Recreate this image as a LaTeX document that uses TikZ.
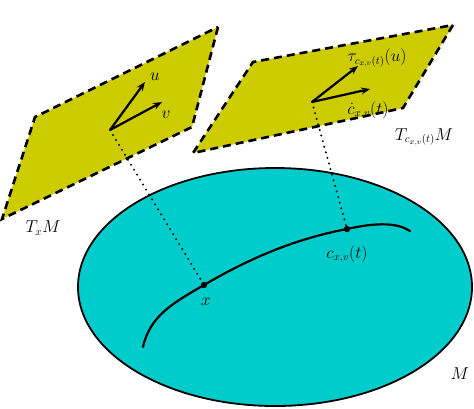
\documentclass[tikz,border=0pt]{standalone}
\usepackage{amsmath}
\usepackage{amssymb}
\usepackage{xcolor}
\usetikzlibrary{calc,arrows.meta}
\definecolor{planeyellow}{RGB}{204,204,0}
\definecolor{manifoldcyan}{RGB}{0,204,204}

\begin{document}
\begin{tikzpicture}[x=1pt,y=-1pt,
  plane/.style={line width=2.6pt, draw=black, fill=planeyellow, dash pattern=on 8pt off 5pt},
  vec/.style={line width=2.2pt, -{Stealth[length=9pt,width=7pt]}},
  proj/.style={line width=2.2pt, dash pattern=on 0pt off 5.8pt, line cap=round},
  lbl/.style={inner sep=0pt, font=\fontsize{16}{18}\selectfont}]
\useasboundingbox (0,0) rectangle (474,408);
% the manifold
      \draw [line width=1.8pt, draw=black, fill=manifoldcyan]
      (275,287) ellipse [x radius=197, y radius=119];
% the two tangent planes
      \draw [plane]
	  (218,27) --
      (192,127) --
      (2,219)--
      (35,117)--
       cycle;
      \draw [plane]
	  (453,25) --
      (403,108) --
      (193,153)--
      (253,62)--
       cycle;
% points on the curve
\coordinate (x) at (204,285);
\coordinate (c) at (347,229);
\coordinate (bx) at (110,130);
\coordinate (bc) at (312,102);
      \draw [line width=2.2pt, line cap=round]
      (143,347) .. controls (150,315) and (175,302) .. (x)
      .. controls (255,255) and (300,238) .. (c)
      .. controls (378,222) and (398,223) .. (410,231);
\fill (x) circle [radius=3.2];
\fill (c) circle [radius=3.2];
% projections
\draw [proj] (bx) -- (x);
\draw [proj] (bc) -- (c);
% tangent vectors
\coordinate (u) at (145,82);
\coordinate (v) at (162,102);
\coordinate (tu) at (358,66);
\coordinate (cdot) at (370,89);
\draw [vec] (bx) -- (u);
\draw [vec] (bx) -- (v);
\draw [vec] (bc) -- (tu);
\draw [vec] (bc) -- (cdot);
% labels
\node [lbl] (ulbl) at (155,77) {$u$};
\node [lbl] (vlbl) at (166,115) {$v$};
\node [lbl] (tulbl) at (377,58) {$\tau_{c_{x,v}(t)}(u)$};
\node [lbl] (cdotlbl) at (368,110) {$\dot{c}_{x,v}(t)$};
\node [lbl] (TxM) at (43,228) {$T_xM$};
\node [lbl] (TcM) at (424,137) {$T_{c_{x,v}(t)}M$};
\node [lbl] (xlbl) at (206,302) {$x$};
\node [lbl] (clbl) at (347,254) {$c_{x,v}(t)$};
\node [lbl] (Mlbl) at (460,374) {$M$};
\end{tikzpicture}
\end{document}
